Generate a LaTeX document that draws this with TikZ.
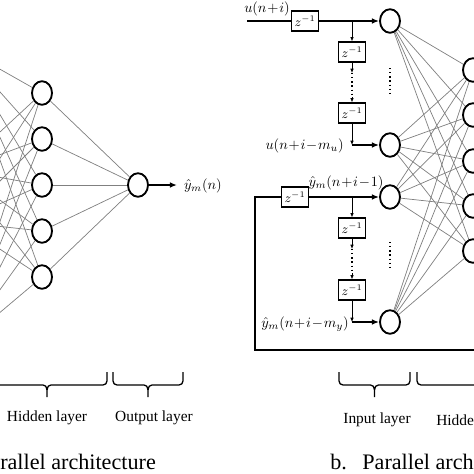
\documentclass[tikz,border=0pt]{standalone}
\usepackage{fontspec}
\setmainfont{Liberation Serif}
\usepackage{amsmath}
\usetikzlibrary{arrows.meta, positioning, shapes.geometric}

\begin{document}
\begin{tikzpicture}[
    x=0.7pt, y=-0.7pt,
    neuron/.style={ellipse, draw, line width=1.3pt, minimum width=14pt,
                   minimum height=16.5pt, inner sep=0pt},
    delay/.style={rectangle, draw, line width=0.9pt, minimum width=18.5pt,
                  minimum height=14pt, inner sep=0pt,
                  font=\fontsize{9}{10}\selectfont},
    conn/.style={gray, line width=0.5pt},
    sigline/.style={line width=1.2pt},
    flow/.style={-{Latex[length=5pt, width=4pt]}, line width=1.2pt},
    tap/.style={-{Latex[length=3pt, width=2.5pt]}, line width=0.5pt},
    dots/.style={dotted, line width=0.9pt},
    sig/.style={font={\fontsize{9.8}{11}\selectfont\medmuskip=1mu\relax},
                inner sep=0pt},
    layer/.style={font=\fontsize{10.8}{13}\selectfont, inner sep=0pt},
    figcap/.style={font=\fontsize{15.5}{18}\selectfont, inner sep=0pt},
    brc/.style={line width=0.9pt}
  ]
  \useasboundingbox (0,0) rectangle (474,474);
  \clip (0,0) rectangle (474,474);

  % a. left panel (cut off)
  \coordinate (li1) at (-41,46);
  \coordinate (li2) at (-41,170);
  \coordinate (li3) at (-41,222);
  \coordinate (li4) at (-41,347);
  \foreach \k/\yy in {1/93,2/139,3/185,4/231,5/277}
    \node[neuron] (lh\k) at (42,\yy) {};
  \node[neuron] (lout) at (138,185) {};
  \coordinate (lend) at (177,185);
  \node[sig] (lyhat) at (203,186) {$\hat{y}_m(n)$};

  \foreach \i in {1,...,4}
    \foreach \k in {1,...,5}
      \draw[conn] (li\i) -- (lh\k);
  \foreach \k in {1,...,5}
    \draw[conn] (lh\k) -- (lout);
  \draw[flow] (lout) -- (lend);

  % b. right panel
  \foreach \i/\yy in {1/21,2/145,3/197,4/322}
    \node[neuron] (ri\i) at (390,\yy) {};
  \foreach \k/\yy in {1/70,2/115,3/161,4/206,5/251}
    \node[neuron] (rh\k) at (473,\yy) {};
  \foreach \i in {1,...,4}
    \foreach \k in {1,...,5}
      \draw[conn] (ri\i) -- (rh\k);

  % tapped delay line of u
  \coordinate (uin) at (247,21);
  \node[sig] (ulab) at (267,9) {$u(n+i)$};
  \node[delay] (d1) at (305,21) {$z^{-1}$};
  \coordinate (tap1) at (352,21);
  \node[delay] (d2) at (352,52) {$z^{-1}$};
  \coordinate (dotA1) at (352,73);
  \coordinate (dotA2) at (352,97);
  \node[delay] (d3) at (352,113) {$z^{-1}$};
  \coordinate (turn1) at (352,145);
  \node[sig, anchor=east] (umu) at (344,146) {$u(n+i-m_u)$};

  \draw[sigline] (uin) -- (d1);
  \draw[flow] (d1) -- (ri1);
  \draw[tap] (tap1) -- (d2);
  \draw[tap] (d2) -- (dotA1);
  \draw[dots] (dotA1) -- (dotA2);
  \draw[tap] (dotA2) -- (d3);
  \draw[tap] (d3) -- (turn1);
  \draw[flow] (turn1) -- (ri2);

  % tapped delay line of the fed-back output
  \coordinate (fbr) at (480,350);
  \coordinate (fbl) at (255,350);
  \coordinate (fbt) at (255,197);
  \node[delay] (d4) at (295,197) {$z^{-1}$};
  \node[sig] (ylab) at (346,183) {$\hat{y}_m(n+i-1)$};
  \coordinate (tap2) at (352,197);
  \node[delay] (d5) at (352,228) {$z^{-1}$};
  \coordinate (dotB1) at (352,249);
  \coordinate (dotB2) at (352,273);
  \node[delay] (d6) at (352,290) {$z^{-1}$};
  \coordinate (turn2) at (352,322);
  \node[sig, anchor=east] (ymy) at (349,324) {$\hat{y}_m(n+i-m_y)$};

  \draw[sigline] (fbr) -- (fbl) -- (fbt) -- (d4);
  \draw[flow] (d4) -- (ri3);
  \draw[tap] (tap2) -- (d5);
  \draw[tap] (d5) -- (dotB1);
  \draw[dots] (dotB1) -- (dotB2);
  \draw[tap] (dotB2) -- (d6);
  \draw[tap] (d6) -- (turn2);
  \draw[flow] (turn2) -- (ri4);

  % dots between the input neurons
  \coordinate (gapA1) at (390,68);
  \coordinate (gapA2) at (390,95);
  \coordinate (gapB1) at (390,242);
  \coordinate (gapB2) at (390,267);
  \draw[dots] (gapA1) -- (gapA2);
  \draw[dots] (gapB1) -- (gapB2);

  % layer braces
  \foreach \a/\b [evaluate=\a as \m using (\a+\b)/2] in
      {-13/107, 113/183, 339/410, 417/541}
    \draw[brc] (\a,372) -- (\a,381) to[out=-90,in=180] (\a+4,385)
      -- (\m-4,385) to[out=0,in=90] (\m,397)
      to[out=90,in=180] (\m+4,385) -- (\b-4,385)
      to[out=0,in=-90] (\b,381) -- (\b,372);
  \node[layer] (hidl) at (47,418) {Hidden layer};
  \node[layer] (outl) at (154,418) {Output layer};
  \node[layer] (inl) at (377,420) {Input layer};
  \node[layer, anchor=west] (hidr) at (436,420) {Hidde};

  % captions
  \node[figcap, anchor=base west] (capa) at (0,469) {rallel architecture};
  \node[figcap, anchor=base west] (capb) at (330,469)
       {b.\hspace{0.7em}Parallel arch};
\end{tikzpicture}
\end{document}
